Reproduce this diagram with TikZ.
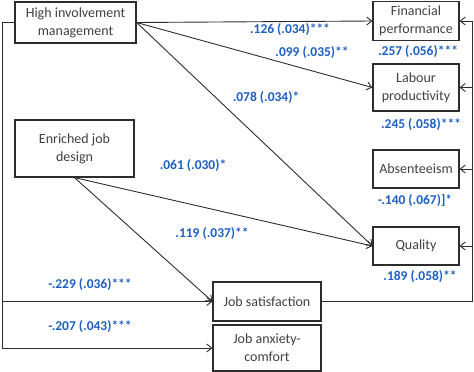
\documentclass[tikz,border=0pt]{standalone}
\usepackage{fontspec}
\setmainfont{Carlito}
\usetikzlibrary{arrows.meta}
\definecolor{boxtext}{RGB}{64,64,64}
\definecolor{lbl}{RGB}{30,95,195}
\definecolor{ln}{RGB}{45,45,45}
\begin{document}
\begin{tikzpicture}[x=1pt,y=-1pt,
  box/.style={draw=ln, line width=1.2pt, align=center, text=boxtext,
    font=\fontsize{14}{18}\selectfont, inner sep=0pt},
  arr/.style={draw=ln, line width=0.9pt, -{Straight Barb[length=5pt,width=8pt]}},
  conn/.style={draw=ln, line width=0.9pt},
  lab/.style={text=lbl, font=\fontsize{13.5}{16}\selectfont\bfseries, inner sep=0pt}]
\useasboundingbox (0,0) rectangle (474,372);
% boxes
\node[box, minimum width=121pt, minimum height=41pt] (him) at (75.5,22.5) {High involvement\\management};
\node[box, minimum width=119pt, minimum height=57pt] (ejd) at (74.5,148.5) {Enriched job\\design};
\node[box, minimum width=86pt, minimum height=39pt] (fp) at (416,21) {Financial\\performance};
\node[box, minimum width=86pt, minimum height=47pt] (lp) at (416,87.5) {Labour\\productivity};
\node[box, minimum width=86pt, minimum height=38pt] (abs) at (416,169) {Absenteeism};
\node[box, minimum width=86pt, minimum height=38pt] (qual) at (416,246) {Quality};
\node[box, minimum width=108pt, minimum height=39pt] (js) at (267,301.5) {Job satisfaction};
\node[box, minimum width=108pt, minimum height=46pt] (ja) at (267,348) {Job anxiety-\\comfort};
% bus coordinates
\coordinate (lb) at (2,0);
\coordinate (rb) at (472,0);
% connectors
\draw[arr] (him.east) -- (fp.west);
\draw[arr] (him.east) -- (lp.west);
\draw[arr] (him.east) -- (qual.west);
\draw[arr] (ejd.south) -- (qual.west);
\draw[arr] (ejd.south) -- (js.west);
\draw[arr] (him.west) -- (him.west -| lb) |- (ja.west);
\draw[arr] (lb |- js.west) -- (js.west);
\draw[arr] (js.east) -| (rb |- fp.east) -- (fp.east);
\draw[arr] (rb |- lp.east) -- (lp.east);
\draw[arr] (rb |- abs.east) -- (abs.east);
\draw[arr] (rb |- qual.east) -- (qual.east);
% labels
\node[lab] (l1) at (290,30) {.126 (.034)***};
\node[lab] (l2) at (312,53) {.099 (.035)**};
\node[lab] (l3) at (418,52) {.257 (.056)***};
\node[lab] (l4) at (266,98) {.078 (.034)*};
\node[lab] (l5) at (421,125) {.245 (.058)***};
\node[lab] (l6) at (415,201) {-.140 (.067)]*};
\node[lab] (l7) at (420,277) {.189 (.058)**};
\node[lab] (l8) at (193,166) {.061 (.030)*};
\node[lab] (l9) at (212,234) {.119 (.037)**};
\node[lab] (l10) at (90,285) {-.229 (.036)***};
\node[lab] (l11) at (90,327) {-.207 (.043)***};
\end{tikzpicture}
\end{document}
